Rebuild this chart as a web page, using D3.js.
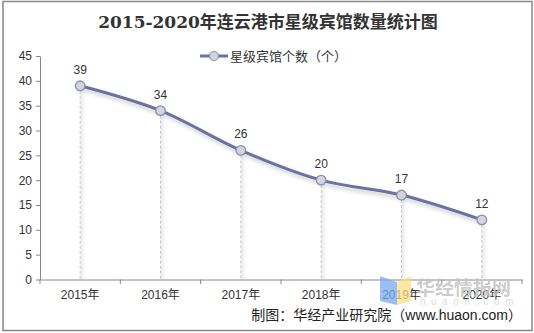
<!DOCTYPE html>
<html><head><meta charset="utf-8">
<script src="https://cdn.jsdelivr.net/npm/d3@7"></script>
<style>body{margin:0;background:#fff}svg{display:block}</style>
</head><body>
<script>
const years = ["2015年","2016年","2017年","2018年","2019年","2020年"];
const values = [39,34,26,20,17,12];
const yTicks = [0,5,10,15,20,25,30,35,40,45];
const title = "2015-2020年连云港市星级宾馆数量统计图";
const seriesName = "星级宾馆个数（个）";
const source = "制图：华经产业研究院（www.huaon.com）";

const W=534,H=333;
const svg=d3.select("body").append("svg").attr("width",W).attr("height",H);
const defs=svg.append("defs");
const f=defs.append("filter").attr("id","sh").attr("x","-20%").attr("y","-20%").attr("width","140%").attr("height","160%");
f.append("feDropShadow").attr("dx",2).attr("dy",3).attr("stdDeviation",2).attr("flood-color","#000").attr("flood-opacity",0.22);
const g1=defs.append("linearGradient").attr("id","dg");
g1.append("stop").attr("offset","0").attr("stop-color","#e4e4e4").attr("stop-opacity",0.9);
g1.append("stop").attr("offset","1").attr("stop-color","#fff").attr("stop-opacity",0);

svg.append("rect").attr("x",3).attr("y",1.5).attr("width",529).attr("height",329)
  .attr("fill","#fff").attr("stroke","#888").attr("stroke-width",1.5);

svg.append("text").attr("x",268).attr("y",28).attr("text-anchor","middle")
  .attr("font-family","'DejaVu Serif','Liberation Serif','Noto Sans CJK SC',serif").attr("font-weight","bold")
  .attr("font-size",17).attr("fill","#333").text(title);

const x=d3.scaleBand().domain(years).range([40,522]);
const y=d3.scaleLinear().domain([0,45]).range([279.5,56]);

// legend
const lg=svg.append("g");
lg.append("line").attr("x1",200).attr("x2",228).attr("y1",56).attr("y2",56).attr("stroke","#6a72a0").attr("stroke-width",3);
lg.append("circle").attr("cx",214).attr("cy",56).attr("r",4.5).attr("fill","#d4d4dc").attr("stroke","#8a90b0").attr("stroke-width",1.2);
lg.append("text").attr("x",230).attr("y",61).attr("font-family","'Noto Sans CJK SC',sans-serif").attr("font-size",13).attr("fill","#333").text(seriesName);

// axes
const ya=svg.append("g").attr("transform","translate(40,0)").call(d3.axisLeft(y).tickValues(yTicks).tickSize(4).tickPadding(4).tickSizeOuter(0));
const xa=svg.append("g").attr("transform","translate(0,279.5)").call(d3.axisBottom(x).tickSize(0).tickPadding(11).tickSizeOuter(0));
[ya,xa].forEach(a=>{a.select(".domain").attr("stroke","#888");a.selectAll(".tick line").attr("stroke","#888");
  a.selectAll("text").attr("fill","#333").attr("font-size",12).attr("font-family","'Liberation Sans',Arial,'Noto Sans CJK SC',sans-serif");});
const bounds=years.map(d=>x(d)).concat([x.range()[1]]);
svg.append("g").selectAll("line").data(bounds).join("line")
  .attr("x1",d=>d).attr("x2",d=>d).attr("y1",279.5).attr("y2",284).attr("stroke","#888");

const cx=d=>x(d)+x.bandwidth()/2;
// drop lines
const dl=svg.append("g");
years.forEach((d,i)=>{
  dl.append("rect").attr("x",cx(d)+0.5).attr("y",y(values[i])).attr("width",7).attr("height",279-y(values[i])).attr("fill","url(#dg)");
  dl.append("line").attr("x1",cx(d)).attr("x2",cx(d)).attr("y1",y(values[i])).attr("y2",279)
    .attr("stroke","#c8c8c8").attr("stroke-dasharray","3,2").attr("stroke-width",1);
});

const line=d3.line().x((d,i)=>cx(years[i])).y(d=>y(d)).curve(d3.curveCatmullRom.alpha(0.5));
svg.append("path").datum(values).attr("d",line).attr("fill","none").attr("stroke","#6a72a0").attr("stroke-width",3).attr("filter","url(#sh)");
svg.append("g").selectAll("circle").data(values).join("circle")
  .attr("cx",(d,i)=>cx(years[i])).attr("cy",d=>y(d)).attr("r",4.8)
  .attr("fill","#d4d4dc").attr("stroke","#8a90b0").attr("stroke-width",1.3);
svg.append("g").selectAll("text").data(values).join("text")
  .attr("x",(d,i)=>cx(years[i])).attr("y",d=>y(d)-12).attr("text-anchor","middle")
  .attr("font-family","'Liberation Sans',Arial,sans-serif").attr("font-size",12).attr("fill","#333").text(d=>d);

// watermark
const wm=svg.append("g");
wm.append("polygon").attr("points","380,276 397,282 397,305 380,301").attr("fill","#7aaaf0").attr("opacity",0.75);
wm.append("polygon").attr("points","397,282 411,276 411,301 397,305").attr("fill","#f8df88").attr("opacity",0.75);
wm.append("text").attr("x",416).attr("y",295).attr("font-family","'Noto Sans CJK SC',sans-serif").attr("font-weight","bold")
  .attr("font-size",19).attr("fill","#c4c4c4").attr("opacity",0.85).text("华经情报网");
wm.append("text").attr("x",420).attr("y",305).attr("font-family","'Liberation Sans',Arial,sans-serif")
  .attr("font-size",10).attr("letter-spacing",5.5).attr("fill","#ddd").text("huaon.com");

svg.append("text").attr("x",522).attr("y",320).attr("text-anchor","end")
  .attr("font-family","'Liberation Sans',Arial,'Noto Sans CJK SC',sans-serif").attr("font-size",14).attr("fill","#222").text(source);
</script>
</body></html>
